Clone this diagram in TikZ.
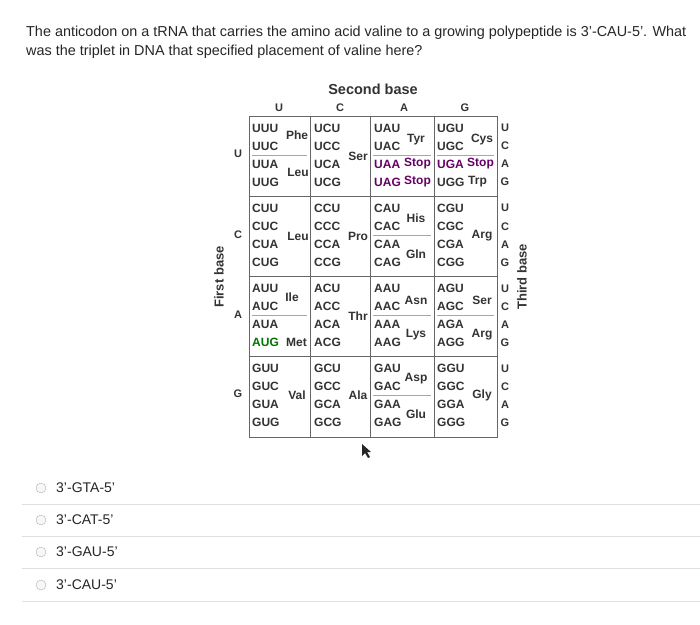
\documentclass[tikz,border=0pt]{standalone}
\usepackage{fontspec}
\setmainfont{Liberation Sans}
\begin{document}
\begin{tikzpicture}[x=1pt,y=-1pt,
  q/.style={anchor=west,font=\fontsize{14.4}{17}\selectfont,text=black!85,inner sep=0pt},
  cod/.style={anchor=west,font=\bfseries\fontsize{12}{14}\selectfont,text=black!80,inner sep=0pt},
  aa/.style={font=\bfseries\fontsize{12}{14}\selectfont,text=black!80,inner sep=0pt},
  hd/.style={font=\bfseries\fontsize{11}{13}\selectfont,text=black!80,inner sep=0pt},
  sep/.style={draw=black!35,line width=0.8pt},
  opt/.style={anchor=west,font=\fontsize{14}{16}\selectfont,text=black!85,inner sep=0pt}]
\useasboundingbox (0,0) rectangle (700,624);
\fill[white] (0,0) rectangle (700,624);
\node[q] (q1) at (26,33) {The anticodon on a tRNA that carries the amino acid valine to a growing polypeptide is 3'-CAU-5'. What};
\node[q] (q2) at (26,52) {was the triplet in DNA that specified placement of valine here?};
% headers
\node[font=\bfseries\fontsize{14.5}{17}\selectfont,text=black!80] (sb) at (373,89) {Second base};
\foreach \l/\x [count=\i] in {U/279,C/340,A/404,G/465}{\node[hd] (h\i) at (\x,108) {\l};}
\node[font=\bfseries\fontsize{13}{15}\selectfont,text=black!80,rotate=90] (fb) at (219,277) {First base};
\node[font=\bfseries\fontsize{13}{15}\selectfont,text=black!80,rotate=90] (tb) at (522,277) {Third base};
% grid
\draw[black!60,line width=1pt] (249,116) rectangle (497,437);
\foreach \x in {310,370,434}{\draw[black!60,line width=1pt] (\x,116) -- (\x,437);}
\foreach \y in {196,276,356}{\draw[black!60,line width=1pt] (249,\y) -- (497,\y);}
% first/third base letters
\foreach \l/\y [count=\i] in {U/154,C/235,A/315,G/394}{\node[hd] (f\i) at (238,\y) {\l};}
\foreach \b in {0,1,2,3}{
  \foreach \l/\o [count=\j] in {U/12,C/30,A/48,G/66}{
    \node[hd] (t\b\j) at (505,116+80.25*\b+\o) {\l};}}
% codons
\foreach \f [count=\b from 0] in {U,C,A,G}{
  \foreach \s/\cx [count=\c] in {U/252,C/314,A/374,G/437}{
    \foreach \t/\o [count=\r] in {U/12,C/30,A/48,G/66}{
      \pgfmathsetmacro{\yy}{116+80.25*\b+\o}
      \ifnum\b=0 \ifnum\c=3 \ifnum\r>2 \def\col{violet!80!black}\else\def\col{black!80}\fi\else
        \ifnum\c=4 \ifnum\r=3 \def\col{violet!80!black}\else\def\col{black!80}\fi\else\def\col{black!80}\fi\fi
      \else \ifnum\b=2 \ifnum\c=1 \ifnum\r=4 \def\col{green!45!black}\else\def\col{black!80}\fi\else\def\col{black!80}\fi\else\def\col{black!80}\fi\fi
      \node[cod,text=\col] (c\b\c\r) at (\cx,\yy) {\f\s\t};
    }}}
% separators
\foreach \b/\c in {0/1,0/3,0/4,1/3,2/1,2/3,2/4,3/3}{
  \pgfmathsetmacro{\xa}{{249,310,370,434}[\c-1]+3}
  \pgfmathsetmacro{\xb}{{310,370,434,497}[\c-1]-3}
  \draw[sep] (\xa,116+80.25*\b+39) -- (\xb,116+80.25*\b+39);}
% amino acids
\node[aa] (a1) at (297,135) {Phe};
\node[aa] (a2) at (298,172) {Leu};
\node[aa] (a3) at (358,156) {Ser};
\node[aa] (a4) at (416,140) {Tyr};
\node[aa] (a5) at (482,140) {Cys};
\node[aa,text=violet!80!black,anchor=west] (a6) at (404,164) {Stop};
\node[aa,text=violet!80!black,anchor=west] (a7) at (404,182) {Stop};
\node[aa,text=violet!80!black,anchor=west] (a8) at (467,164) {Stop};
\node[aa,anchor=west] (a9) at (468,182) {Trp};
\node[aa] (b1) at (298,236) {Leu};
\node[aa] (b2) at (358,236) {Pro};
\node[aa] (b3) at (416,218) {His};
\node[aa] (b4) at (416,254) {Gln};
\node[aa] (b5) at (482,236) {Arg};
\node[aa] (d1) at (292,297) {Ile};
\node[aa,anchor=west] (d2) at (286,342) {Met};
\node[aa] (d3) at (358,316) {Thr};
\node[aa] (d4) at (416,300) {Asn};
\node[aa] (d5) at (416,335) {Lys};
\node[aa] (d6) at (482,300) {Ser};
\node[aa] (d7) at (482,335) {Arg};
\node[aa] (e1) at (297,395) {Val};
\node[aa] (e2) at (358,395) {Ala};
\node[aa] (e3) at (416,379) {Asp};
\node[aa] (e4) at (416,414) {Glu};
\node[aa] (e5) at (482,395) {Gly};
% cursor
\fill[black!85] (362,444) -- (362,456) -- (365,453) -- (368,458) -- (370,457) -- (367,452) -- (371,452) -- cycle;
% options
\foreach \y in {504,536,568,601}{\draw[black!12] (22,\y) -- (700,\y);}
\foreach \t/\y [count=\i] in {3'-GTA-5'/488,3'-CAT-5'/520,3'-GAU-5'/552,3'-CAU-5'/585}{
  \draw[black!30,fill=black!3] (41,\y) circle (5);
  \node[opt] (o\i) at (56,\y) {\t};}
\end{tikzpicture}
\end{document}
